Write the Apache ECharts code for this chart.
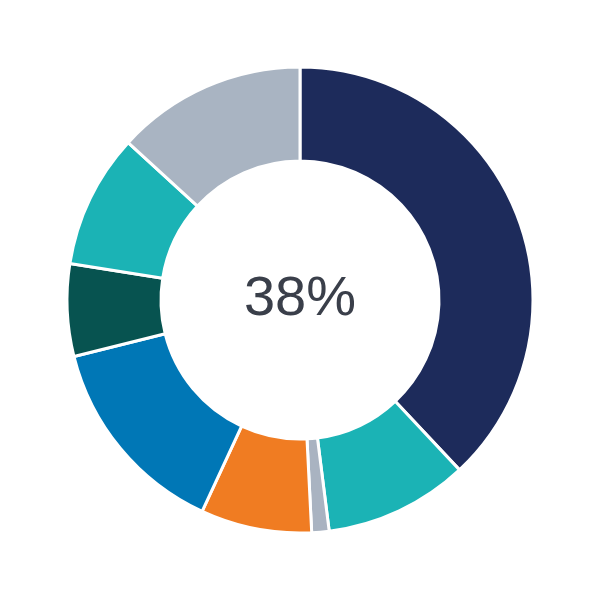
<!DOCTYPE html>
<html>
<head>
  <meta charset="utf-8">
  <title>donut</title>
  <script src="https://cdn.jsdelivr.net/npm/echarts@6/dist/echarts.min.js"></script>
  <style>
    html, body { margin: 0; padding: 0; background: #fff; }
    #main { width: 600px; height: 600px; }
  </style>
</head>
<body>
  <div id="main"></div>
  <script>
    // slice data, clockwise from 12 o'clock
    var names = ['A', 'B', 'C', 'D', 'E', 'F', 'G', 'H'];
    var values = [38, 10, 1.2, 7.7, 14.2, 6.4, 9.3, 13.2];
    var colors = ['#1d2b5b', '#1bb3b5', '#a9b3c1', '#f07c22', '#0077b6', '#075350', '#1bb3b5', '#a9b4c2'];
    var centerLabel = '38%';

    var chart = echarts.init(document.getElementById('main'));
    var data = [];
    for (var i = 0; i < values.length; i++) {
      data.push({ name: names[i], value: values[i], itemStyle: { color: colors[i] } });
    }

    chart.setOption({
      animation: false,
      title: {
        text: centerLabel,
        left: 'center',
        top: 'middle',
        textStyle: {
          fontFamily: 'Liberation Sans, Arial, sans-serif',
          fontSize: 56,
          fontWeight: 'normal',
          color: '#3a3f4a'
        }
      },
      series: [{
        type: 'pie',
        center: [300, 300],
        radius: [139, 233],
        startAngle: 90,
        clockwise: true,
        label: { show: false },
        labelLine: { show: false },
        itemStyle: { borderColor: '#fff', borderWidth: 3 },
        data: data
      }]
    });
  </script>
</body>
</html>
